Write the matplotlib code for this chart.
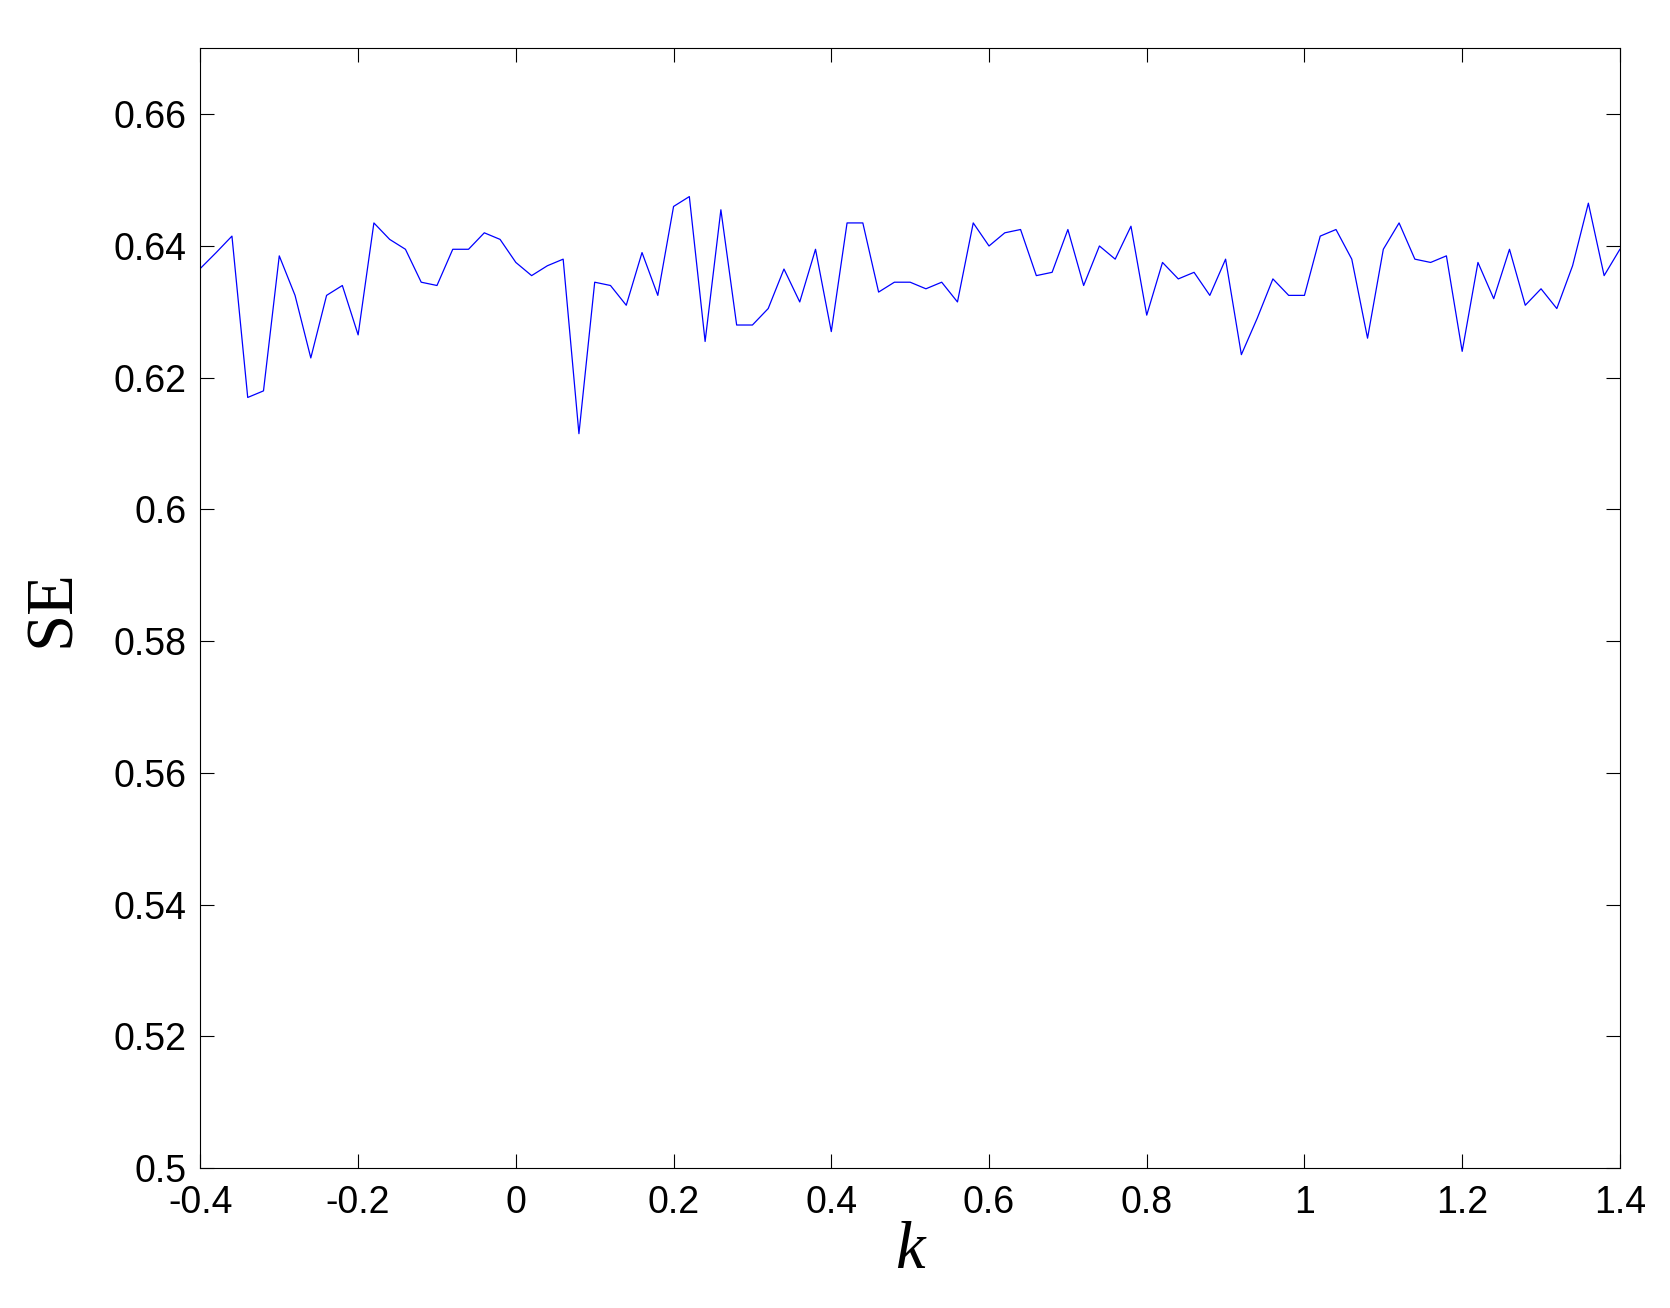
import matplotlib
matplotlib.use('Agg')
import matplotlib.pyplot as plt
import numpy as np

# k from -0.4 to 1.4, step 0.02
k_values = np.round(np.arange(-0.4, 1.4001, 0.02), 2)
se_values = [
    0.6366, 0.639, 0.6415, 0.617, 0.618, 0.6385, 0.6325, 0.623, 0.6325, 0.634,
    0.6265, 0.6435, 0.641, 0.6395, 0.6345, 0.634, 0.6395, 0.6395, 0.642, 0.641,
    0.6375, 0.6355, 0.637, 0.638, 0.6115, 0.6345, 0.634, 0.631, 0.639, 0.6325,
    0.646, 0.6475, 0.6255, 0.6455, 0.628, 0.628, 0.6305, 0.6365, 0.6315, 0.6395,
    0.627, 0.6435, 0.6435, 0.633, 0.6345, 0.6345, 0.6335, 0.6345, 0.6315, 0.6435,
    0.640, 0.642, 0.6425, 0.6355, 0.636, 0.6425, 0.634, 0.640, 0.638, 0.643,
    0.6295, 0.6375, 0.635, 0.636, 0.6325, 0.638, 0.6235, 0.629, 0.635, 0.6325,
    0.6325, 0.6415, 0.6425, 0.638, 0.626, 0.6395, 0.6435, 0.638, 0.6375, 0.6385,
    0.624, 0.6375, 0.632, 0.6395, 0.631, 0.6335, 0.6305, 0.637, 0.6465, 0.6355,
    0.6395,
]
x_ticks = [-0.4, -0.2, 0, 0.2, 0.4, 0.6, 0.8, 1, 1.2, 1.4]
x_tick_labels = ['-0.4', '-0.2', '0', '0.2', '0.4', '0.6', '0.8', '1', '1.2', '1.4']
y_ticks = [0.5, 0.52, 0.54, 0.56, 0.58, 0.6, 0.62, 0.64, 0.66]
y_tick_labels = ['0.5', '0.52', '0.54', '0.56', '0.58', '0.6', '0.62', '0.64', '0.66']

plt.rcParams['font.family'] = ['Liberation Sans', 'DejaVu Sans']

fig = plt.figure(figsize=(16.7, 13.08), dpi=100)
ax = fig.add_axes([0.12, 0.107, 0.85, 0.856])
ax.plot(k_values, se_values, color='blue', linewidth=0.9)

ax.set_xlim(-0.4, 1.4)
ax.set_ylim(0.5, 0.67)
ax.set_xticks(x_ticks)
ax.set_xticklabels(x_tick_labels)
ax.set_yticks(y_ticks)
ax.set_yticklabels(y_tick_labels)
ax.tick_params(direction='in', top=True, right=True, length=10, width=0.8, labelsize=27)
ax.tick_params(axis='x', pad=12)
ax.tick_params(axis='y', pad=10)
for s in ax.spines.values():
    s.set_linewidth(0.8)

ax.set_xlabel('k', fontsize=48, family=['Liberation Serif'], style='italic', labelpad=0)
ax.set_ylabel('SE', fontsize=48, family=['Liberation Serif'], labelpad=22)

fig.savefig('out.png', dpi=100)
